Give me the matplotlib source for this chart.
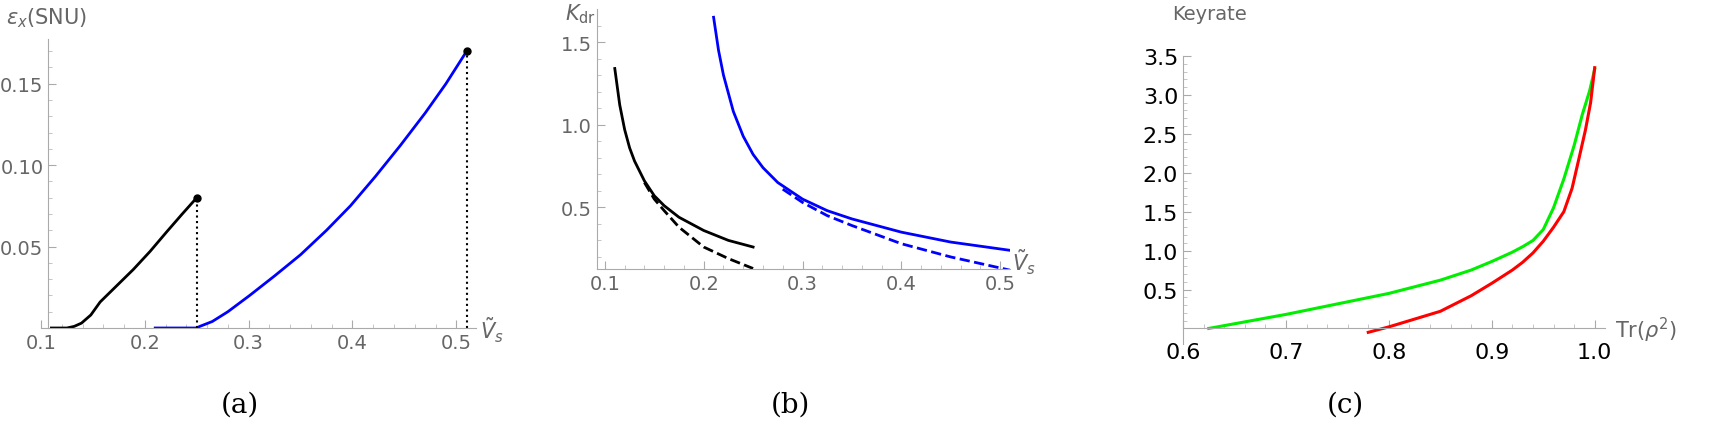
import matplotlib
matplotlib.use("Agg")
import matplotlib.pyplot as plt
import numpy as np

# Panel (a)
a_black_x = [0.11, 0.12, 0.125, 0.132, 0.139, 0.148, 0.157, 0.173, 0.189, 0.205, 0.221, 0.236, 0.25]
a_black_y = [0.0, 0.0, 0.0, 0.001, 0.003, 0.008, 0.016, 0.026, 0.036, 0.047, 0.059, 0.070, 0.080]
a_blue_x = [0.21, 0.25, 0.253, 0.265, 0.28, 0.301, 0.325, 0.35, 0.375, 0.398, 0.422, 0.446, 0.47, 0.49, 0.51]
a_blue_y = [0.0, 0.0, 0.001, 0.004, 0.01, 0.02, 0.032, 0.045, 0.060, 0.075, 0.093, 0.112, 0.132, 0.150, 0.170]
a_pts_x = [0.25, 0.51]
a_pts_y = [0.080, 0.170]

# Panel (b)
b_black_x = [0.11, 0.115, 0.12, 0.125, 0.13, 0.14, 0.15, 0.16, 0.175, 0.2, 0.225, 0.25]
b_black_y = [1.34, 1.12, 0.97, 0.86, 0.78, 0.66, 0.57, 0.51, 0.44, 0.36, 0.30, 0.26]
b_blackd_x = [0.14, 0.15, 0.16, 0.175, 0.2, 0.225, 0.25]
b_blackd_y = [0.65, 0.55, 0.48, 0.38, 0.26, 0.19, 0.13]
b_blue_x = [0.21, 0.215, 0.22, 0.23, 0.24, 0.25, 0.26, 0.275, 0.3, 0.325, 0.35, 0.4, 0.45, 0.51]
b_blue_y = [1.65, 1.45, 1.30, 1.08, 0.93, 0.82, 0.74, 0.65, 0.55, 0.48, 0.43, 0.35, 0.29, 0.24]
b_blued_x = [0.28, 0.3, 0.325, 0.35, 0.4, 0.45, 0.51]
b_blued_y = [0.61, 0.53, 0.45, 0.39, 0.28, 0.20, 0.12]

# Panel (c)
c_green_x = [0.625, 0.7, 0.8, 0.85, 0.88, 0.9, 0.92, 0.93, 0.94, 0.95, 0.96, 0.97, 0.98, 0.988, 0.995, 1.0]
c_green_y = [0.0, 0.18, 0.45, 0.62, 0.75, 0.86, 0.98, 1.05, 1.13, 1.27, 1.55, 1.92, 2.35, 2.75, 3.05, 3.33]
c_red_x = [0.78, 0.8, 0.85, 0.88, 0.9, 0.92, 0.93, 0.94, 0.95, 0.96, 0.97, 0.978, 0.985, 0.991, 0.996, 1.0]
c_red_y = [-0.05, 0.02, 0.22, 0.42, 0.58, 0.75, 0.85, 0.97, 1.12, 1.30, 1.50, 1.80, 2.2, 2.55, 2.9, 3.35]

fig = plt.figure(figsize=(17.25, 4.35), dpi=100)
W, H = 1725, 435
def ax_at(l, r, t, b):
    return fig.add_axes([l / W, 1 - b / H, (r - l) / W, (b - t) / H])

gray = "#666666"
def style(ax, labcol=gray, fs=14):
    for s in ["top", "right"]:
        ax.spines[s].set_visible(False)
    for s in ["left", "bottom"]:
        ax.spines[s].set_color("#aaaaaa")
    ax.tick_params(colors="#aaaaaa", labelcolor=labcol, labelsize=fs, direction="in", length=6)
    ax.tick_params(which="minor", colors="#bbbbbb", direction="in", length=3)

# (a)
ax = ax_at(41, 476, 40, 329)
ax.plot(a_black_x, a_black_y, color="black", lw=2)
ax.plot(a_blue_x, a_blue_y, color="blue", lw=2)
ax.plot(a_pts_x, a_pts_y, "o", color="black", ms=5)
for x, y in zip(a_pts_x, a_pts_y):
    ax.plot([x, x], [0, y], ":", color="black", lw=1.5)
ax.set_xlim(0.1, 0.519)
ax.set_ylim(0, 0.1775)
ax.spines["left"].set_position(("data", 0.107))
ax.set_xticks([0.1, 0.2, 0.3, 0.4, 0.5])
ax.set_xticks(np.arange(0.1, 0.52, 0.02), minor=True)
ax.set_yticks([0.05, 0.10, 0.15])
ax.set_yticks(np.arange(0.01, 0.175, 0.01), minor=True)
ax.set_yticklabels(["0.05", "0.10", "0.15"])
style(ax)
fig.text(6 / W, 1 - 18 / H, r"$\epsilon_x$(SNU)", color=gray, fontsize=15, va="center")
fig.text(480 / W, 1 - 330 / H, r"$\tilde{V}_s$", color=gray, fontsize=15, va="center")

# (b)
ax = ax_at(597, 1010, 10, 270)
ax.plot(b_black_x, b_black_y, color="black", lw=2)
ax.plot(b_blackd_x, b_blackd_y, "--", color="black", lw=2)
ax.plot(b_blue_x, b_blue_y, color="blue", lw=2)
ax.plot(b_blued_x, b_blued_y, "--", color="blue", lw=2)
ax.set_xlim(0.092, 0.51)
ax.set_ylim(0.127, 1.7)
ax.set_xticks([0.1, 0.2, 0.3, 0.4, 0.5])
ax.set_xticks(np.arange(0.1, 0.51, 0.02), minor=True)
ax.set_yticks([0.5, 1.0, 1.5])
ax.set_yticks(np.arange(0.2, 1.7, 0.1), minor=True)
style(ax)
fig.text(565 / W, 1 - 14 / H, r"$K_{\rm dr}$", color=gray, fontsize=15, va="center")
fig.text(1012 / W, 1 - 262 / H, r"$\tilde{V}_s$", color=gray, fontsize=15, va="center")

# (c)
ax = ax_at(1183, 1605, 57, 345)
ax.plot(c_green_x, c_green_y, color="#00ee00", lw=2.2)
ax.plot(c_red_x, c_red_y, color="red", lw=2.2)
ax.set_xlim(0.6, 1.01)
ax.set_ylim(-0.2, 3.5)
ax.spines["bottom"].set_position(("data", 0))
ax.set_xticks([0.6, 0.7, 0.8, 0.9, 1.0])
ax.set_xticks(np.arange(0.6, 1.001, 0.02), minor=True)
ax.set_yticks([0.5, 1.0, 1.5, 2.0, 2.5, 3.0, 3.5])
ax.set_yticks(np.arange(0.1, 3.5, 0.1), minor=True)
style(ax, labcol="black", fs=16)
ax.tick_params(axis="x", pad=10)
fig.text(1172 / W, 1 - 15 / H, "Keyrate", color=gray, fontsize=14, va="center")
fig.text(1615 / W, 1 - 330 / H, r"Tr($\rho^2$)", color=gray, fontsize=15, va="center")

for x, lab in [(240, "(a)"), (790, "(b)"), (1345, "(c)")]:
    fig.text(x / W, 1 - 405 / H, lab, fontsize=20, family="serif", ha="center", va="center")

fig.savefig("out.png", dpi=100)
